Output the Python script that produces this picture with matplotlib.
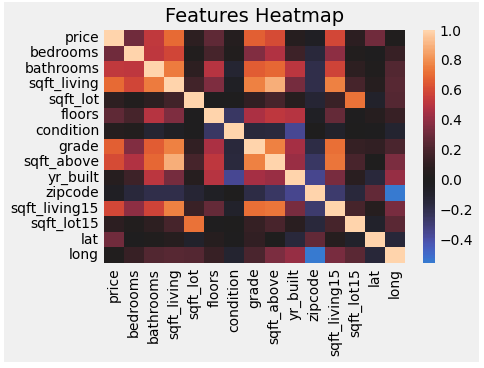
import matplotlib
matplotlib.use("Agg")
import matplotlib.pyplot as plt
from matplotlib.patches import Rectangle
import numpy as np
import pandas as pd
import seaborn as sns

plt.style.use('fivethirtyeight')

features = ['price', 'bedrooms', 'bathrooms', 'sqft_living', 'sqft_lot', 'floors',
            'condition', 'grade', 'sqft_above', 'yr_built', 'zipcode',
            'sqft_living15', 'sqft_lot15', 'lat', 'long']

# upper triangle of the correlation matrix, row by row
price = [0.31, 0.53, 0.70, 0.09, 0.26, 0.04, 0.67, 0.61, 0.05, -0.05, 0.59, 0.08, 0.31, 0.02]
bedrooms = [0.52, 0.58, 0.03, 0.18, 0.03, 0.36, 0.48, 0.15, -0.15, 0.39, 0.03, -0.01, 0.13]
bathrooms = [0.75, 0.09, 0.50, -0.12, 0.66, 0.69, 0.51, -0.20, 0.57, 0.09, 0.02, 0.22]
sqft_living = [0.17, 0.35, -0.06, 0.76, 0.88, 0.32, -0.20, 0.76, 0.18, 0.05, 0.24]
sqft_lot = [-0.01, -0.01, 0.11, 0.18, 0.05, -0.13, 0.14, 0.72, -0.09, 0.23]
floors = [-0.26, 0.46, 0.52, 0.49, -0.06, 0.28, -0.01, 0.05, 0.13]
condition = [-0.15, -0.16, -0.36, 0.00, -0.09, -0.00, -0.01, -0.11]
grade = [0.76, 0.45, -0.18, 0.71, 0.12, 0.11, 0.20]
sqft_above = [0.42, -0.26, 0.73, 0.19, -0.00, 0.34]
yr_built = [-0.35, 0.33, 0.07, -0.15, 0.41]
zipcode = [-0.28, -0.15, 0.27, -0.56]
sqft_living15 = [0.18, 0.05, 0.33]
sqft_lot15 = [-0.09, 0.25]
lat = [-0.14]

rows = [price, bedrooms, bathrooms, sqft_living, sqft_lot, floors, condition,
        grade, sqft_above, yr_built, zipcode, sqft_living15, sqft_lot15, lat]

n = len(features)
mat = np.eye(n)
for i, r in enumerate(rows):
    for k, v in enumerate(r):
        j = i + 1 + k
        mat[i, j] = v
        mat[j, i] = v
corr = pd.DataFrame(mat, index=features, columns=features)

W, H = 484, 368
fig = plt.figure(figsize=(W / 100, H / 100), dpi=100)
fig.patch.set_facecolor('white')
# grey panel with a thin white margin, as in the notebook screenshot
fig.patches.append(Rectangle((4 / W, 6 / H), 475 / W, 360 / H, transform=fig.transFigure,
                             facecolor='#f0f0f0', edgecolor='none', zorder=-10))

ax = fig.add_axes([104 / W, 1 - 263 / H, 301 / W, 233 / H])
cax = fig.add_axes([423 / W, 1 - 263 / H, 12 / W, 233 / H])
sns.heatmap(corr, center=0, ax=ax, cbar_ax=cax, xticklabels=True, yticklabels=True)
ax.set_title('Features Heatmap', fontsize=14)
ax.tick_params(labelsize=10, length=0)
cax.set_yticks([-0.4, -0.2, 0.0, 0.2, 0.4, 0.6, 0.8, 1.0])
cax.set_yticklabels(['\u22120.4', '\u22120.2', '0.0', '0.2', '0.4', '0.6', '0.8', '1.0'])
cax.tick_params(labelsize=10, length=0)
plt.savefig('out.png', dpi=100, facecolor='white')
